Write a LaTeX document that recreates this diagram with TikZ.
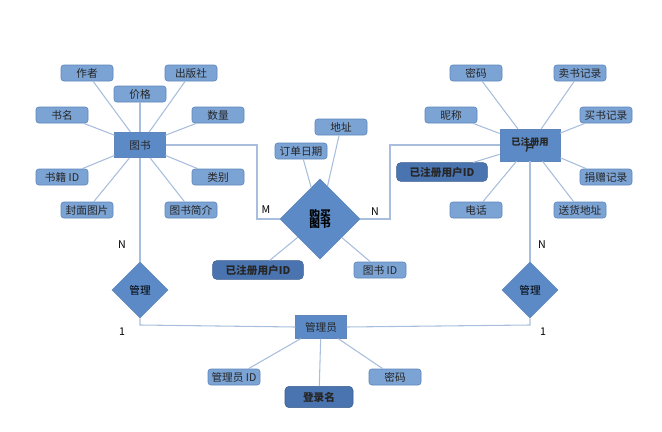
\documentclass[tikz,border=0pt]{standalone}
\usepackage{fontspec}
\setmainfont{Noto Sans CJK SC}
\usetikzlibrary{shapes.geometric}
\definecolor{attrfill}{HTML}{7BA3D4}
\definecolor{attrline}{HTML}{5E86BA}
\definecolor{entfill}{HTML}{5B8AC6}
\definecolor{keyfill}{HTML}{4A74B0}
\definecolor{linkcol}{HTML}{A8BEDC}

\begin{document}
\begin{tikzpicture}
  [ x=0.75pt, y=-0.75pt
  , attr/.style={rectangle, rounded corners=2pt, fill=attrfill, draw=attrline, minimum width=39pt, minimum height=12pt, inner sep=1pt, font=\footnotesize, text=black!85}
  , keyattr/.style={attr, fill=keyfill, draw=keyfill!80!black, rounded corners=3pt, minimum height=14pt, font=\footnotesize\bfseries}
  , entity/.style={rectangle, fill=entfill, draw=attrline, minimum width=38pt, minimum height=19pt, inner sep=1pt, font=\footnotesize, text=black!85}
  , relation/.style={diamond, fill=entfill, draw=attrline, inner sep=1pt, aspect=1, font=\footnotesize\bfseries, align=center, text=black}
  , link/.style={draw=linkcol, line width=0.8pt}
  , card/.style={font=\footnotesize}]
  \useasboundingbox (0,0) rectangle (662,432);
  % book entity
  \node (book) at (140,145) [entity] {图书};
  \node (author) at (87,73) [attr] {作者};
  \node (price) at (140,94) [attr] {价格};
  \node (press) at (191,73) [attr] {出版社};
  \node (title) at (62,115) [attr] {书名};
  \node (amount) at (218,115) [attr] {数量};
  \node (bookno) at (62,177) [attr] {书籍 ID};
  \node (kind) at (218,177) [attr] {类别};
  \node (cover) at (87,210) [attr] {封面图片};
  \node (intro) at (191,210) [attr] {图书简介};
  % buying relation
  \node (buy) at (320,219) [relation, minimum width=60pt, minimum height=60pt] {购买\\[-3pt]图书};
  \node (date) at (301,151) [attr] {订单日期};
  \node (addr) at (341,127) [attr] {地址};
  \node (buyuser) at (258,270) [keyattr, minimum width=68pt] {已注册用户ID};
  \node (buybook) at (380,270) [attr] {图书 ID};
  % user entity
  \node (user) at (530,145) [entity, minimum width=45pt, minimum height=24pt, font=\scriptsize\bfseries, align=center, text width=36pt] {已注册用\\[-3pt]户};
  \node (upass) at (476,73) [attr] {密码};
  \node (sell) at (580,73) [attr] {卖书记录};
  \node (nick) at (451,115) [attr] {昵称};
  \node (bought) at (606,115) [attr] {买书记录};
  \node (userid) at (442,172) [keyattr, minimum width=68pt] {已注册用户ID};
  \node (donate) at (606,177) [attr] {捐赠记录};
  \node (phone) at (476,210) [attr] {电话};
  \node (ship) at (580,210) [attr] {送货地址};
  % admin
  \node (mgl) at (140,290) [relation, minimum width=42pt, minimum height=42pt, font=\footnotesize] {管理};
  \node (mgr) at (530,290) [relation, minimum width=42pt, minimum height=42pt, font=\footnotesize] {管理};
  \node (admin) at (321,327) [entity, minimum height=17pt] {管理员};
  \node (adminid) at (234,377) [attr] {管理员 ID};
  \node (apass) at (395,377) [attr] {密码};
  \node (login) at (319,397) [keyattr, minimum width=51pt, minimum height=16pt] {登录名};
  \coordinate (bm) at (257,145);
  \coordinate (um) at (390,145);
  \coordinate (al) at (140,325);
  \coordinate (ar) at (530,325);
  % attribute links
  \foreach \a in {author,price,press,title,amount,bookno,kind,cover,intro}
    \draw [link] (book) -- (\a);
  \foreach \a in {upass,sell,nick,bought,userid,donate,phone,ship}
    \draw [link] (user) -- (\a);
  \foreach \a in {date,addr,buyuser,buybook}
    \draw [link] (buy) -- (\a);
  \foreach \a in {adminid,apass,login}
    \draw [link] (admin) -- (\a);
  % relation links
  \draw [link] (book.east) -- (bm) -- (bm |- buy.west) -- (buy.west);
  \draw [link] (buy.east) -- (buy.east -| um) -- (um) -- (user.west);
  \draw [link] (book) -- (mgl);
  \draw [link] (mgl) -- (al) -- (admin.west);
  \draw [link] (user) -- (mgr);
  \draw [link] (mgr) -- (ar) -- (admin.east);
  \node [card] at (266,210) {M};
  \node [card] at (375,212) {N};
  \node [card] at (122,245) {N};
  \node [card] at (542,245) {N};
  \node [card] at (122,332) {1};
  \node [card] at (543,332) {1};
\end{tikzpicture}
\end{document}
